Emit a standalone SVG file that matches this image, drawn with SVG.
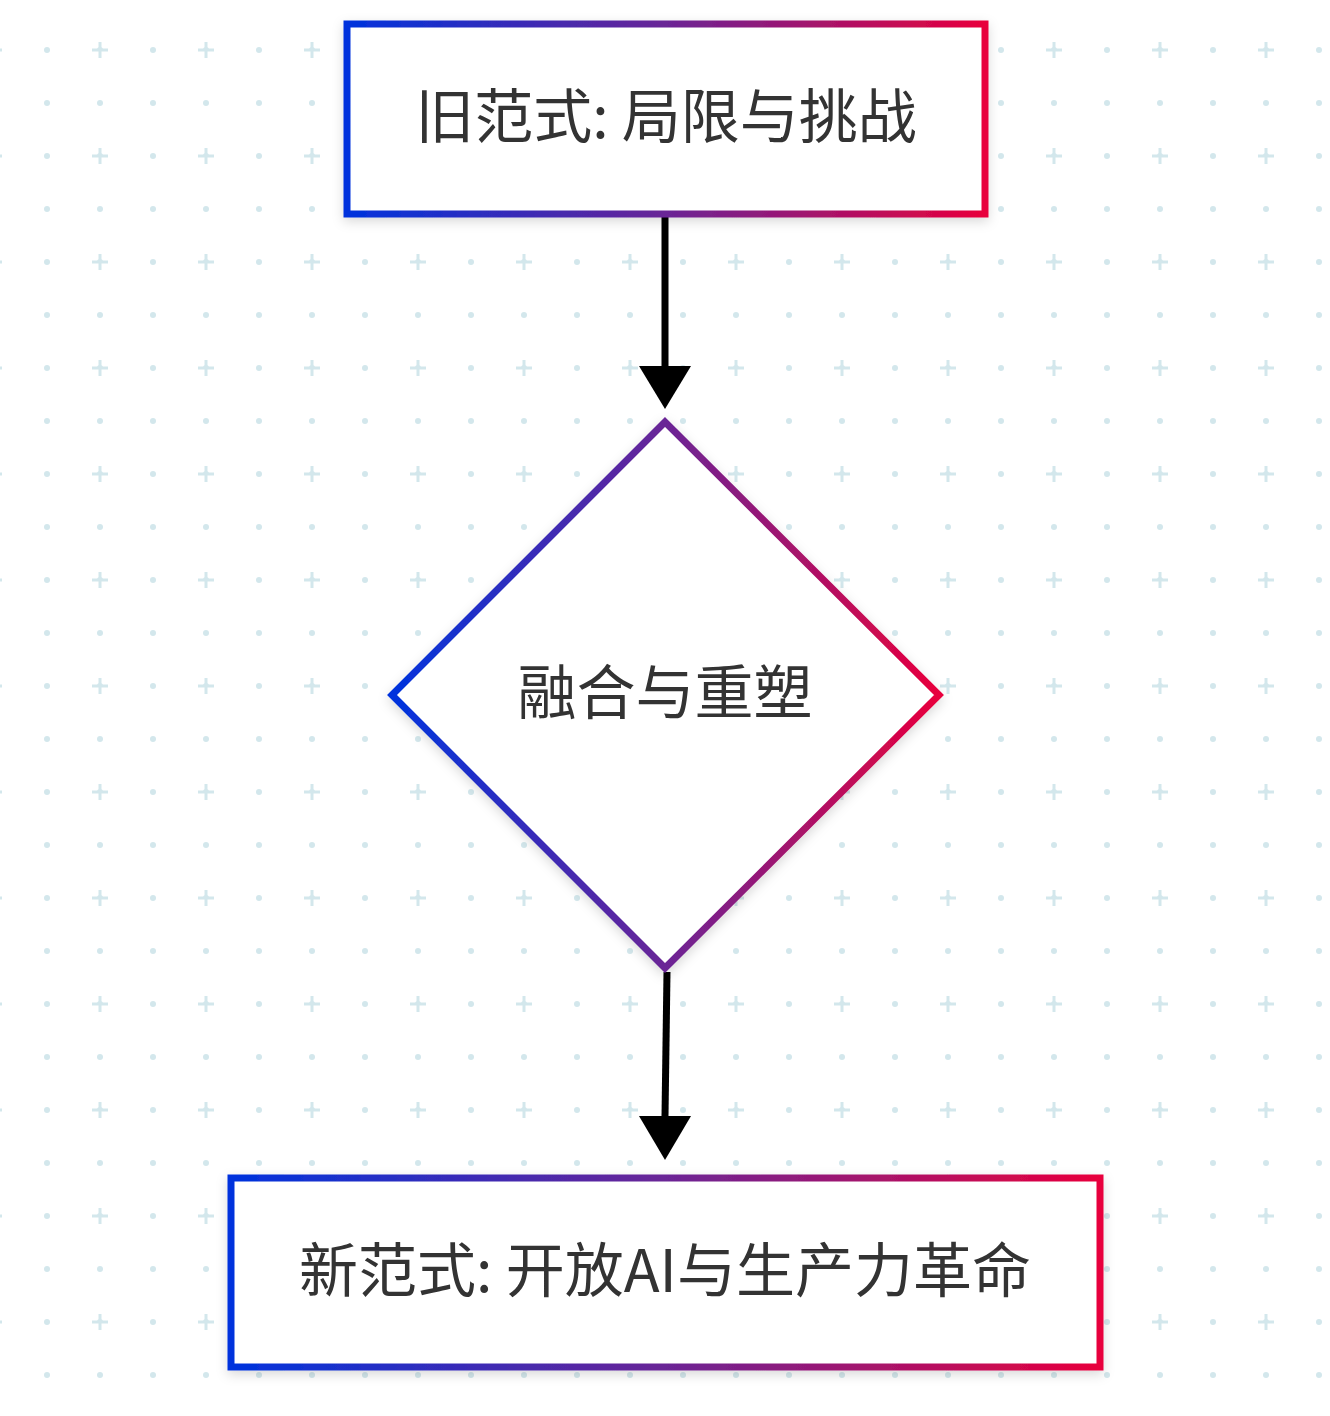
<svg xmlns="http://www.w3.org/2000/svg" width="1330" height="1416" viewBox="0 0 1330 1416">
<defs>
<pattern id="bg" x="47" y="50" width="106" height="106" patternUnits="userSpaceOnUse">
<circle cx="0" cy="0" r="3" fill="#d3e7ec"/>
<circle cx="0" cy="53" r="3" fill="#d3e7ec"/>
<circle cx="53" cy="53" r="3" fill="#d3e7ec"/>
<circle cx="106" cy="0" r="3" fill="#d3e7ec"/>
<circle cx="0" cy="106" r="3" fill="#d3e7ec"/>
<circle cx="106" cy="106" r="3" fill="#d3e7ec"/>
<circle cx="106" cy="53" r="3" fill="#d3e7ec"/>
<circle cx="53" cy="106" r="3" fill="#d3e7ec"/>
<path d="M45 0H61M53 -8V8M45 106H61M53 98V114" stroke="#d3e7ec" stroke-width="3"/>
</pattern>
<linearGradient id="g" x1="0" y1="0" x2="1" y2="0">
<stop offset="0" stop-color="#0033dd"/>
<stop offset="0.5" stop-color="#6a2596"/>
<stop offset="1" stop-color="#e8003c"/>
</linearGradient>
<filter id="sh" x="-10%" y="-10%" width="120%" height="130%">
<feDropShadow dx="0" dy="4" stdDeviation="6" flood-color="#000" flood-opacity="0.15"/>
</filter>
<style>
.n{fill:#fff;stroke:url(#g);stroke-width:7;filter:url(#sh)}
.t{font-family:"Noto Sans CJK SC","Noto Sans",sans-serif;font-size:59px;fill:#333;text-anchor:middle;dominant-baseline:central}
.e{stroke:#000;stroke-width:7;fill:none}
</style>
</defs>
<rect width="1330" height="1416" fill="#fff"/>
<rect width="1330" height="1416" fill="url(#bg)"/>
<g id="connectors">
<path class="e" d="M665 217L665 366"/>
<path d="M639 366L691 366L665 409Z" fill="#000"/>
<path class="e" d="M667 972L665 1116"/>
<path d="M639 1116L691 1116L665 1160Z" fill="#000"/>
</g>
<g id="old">
<rect class="n" x="347" y="24" width="638" height="190"/>
<text class="t" x="666" y="112">旧范式: 局限与挑战</text>
</g>
<g id="fuse">
<path class="n" d="M665 422L939 695L665 968L392 695Z"/>
<text class="t" x="665" y="688">融合与重塑</text>
</g>
<g id="new">
<rect class="n" x="231" y="1178" width="869" height="189"/>
<text class="t" x="665" y="1266">新范式: 开放AI与生产力革命</text>
</g>
</svg>
